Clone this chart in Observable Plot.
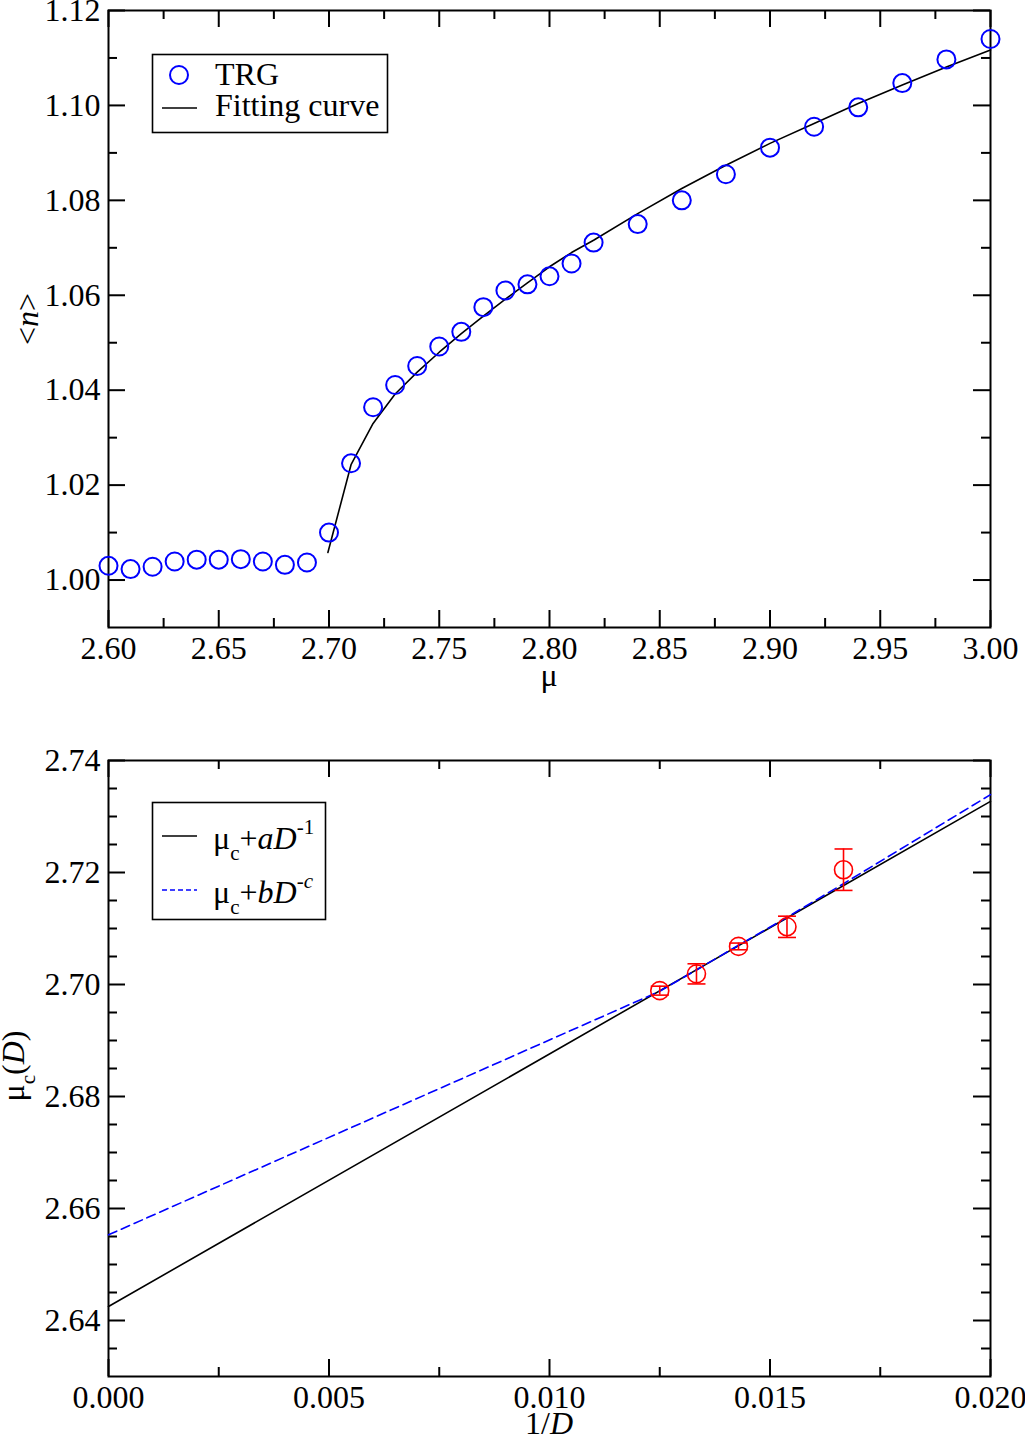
<!DOCTYPE html>
<html>
<head>
<meta charset="utf-8">
<script src="https://cdn.jsdelivr.net/npm/d3@7"></script>
<script src="https://cdn.jsdelivr.net/npm/@observablehq/plot@0.6"></script>
<style>
  html, body { margin: 0; padding: 0; background: #fff; }
  #root { position: relative; width: 1025px; height: 1438px; overflow: hidden; font-family: 'Liberation Serif', 'Times New Roman', serif; }
  #top, #bot { position: absolute; left: 0; }
  #top { top: 0; }
  #bot { top: 715px; }
  #overlay { position: absolute; left: 0; top: 0; pointer-events: none; }
  #root svg, #root svg text { font-family: 'Liberation Serif', 'Times New Roman', serif !important; }
</style>
</head>
<body>
<div id="root">
  <div id="top"></div>
  <div id="bot"></div>
  <svg id="overlay" width="1025" height="1438" font-size="32">
    <!-- top legend -->
    <rect x="152.5" y="54.5" width="235" height="78" fill="#fff" stroke="#000" stroke-width="1.6"></rect>
    <circle cx="179" cy="75" r="9" fill="none" stroke="#0000ff" stroke-width="2"></circle>
    <text x="215" y="85">TRG</text>
    <line x1="162" x2="197" y1="108" y2="108" stroke="#000" stroke-width="1.5"></line>
    <text x="215" y="116">Fitting curve</text>
    <!-- bottom legend -->
    <rect x="152.5" y="802.5" width="173" height="117" fill="#fff" stroke="#000" stroke-width="1.6"></rect>
    <line x1="162" x2="197" y1="836" y2="836" stroke="#000" stroke-width="1.5"></line>
    <text x="213" y="849">μ<tspan font-size="21" dy="11">c</tspan><tspan dy="-11">+</tspan><tspan font-style="italic">aD</tspan><tspan font-size="21" dy="-15">-1</tspan></text>
    <line x1="162" x2="197" y1="890" y2="890" stroke="#0000ff" stroke-width="1.5" stroke-dasharray="5,3"></line>
    <text x="213" y="903">μ<tspan font-size="21" dy="11">c</tspan><tspan dy="-11">+</tspan><tspan font-style="italic">bD</tspan><tspan font-size="21" dy="-15">-</tspan><tspan font-size="21" font-style="italic">c</tspan></text>
    <!-- axis titles -->
    <text x="549" y="686" text-anchor="middle">μ</text>
    <text transform="translate(38,319) rotate(-90)" text-anchor="middle">&lt;<tspan font-style="italic">n</tspan>&gt;</text>
    <text x="549" y="1434" text-anchor="middle">1/<tspan font-style="italic">D</tspan></text>
    <text transform="translate(24,1066) rotate(-90)" text-anchor="middle">μ<tspan font-size="21" dy="11">c</tspan><tspan dy="-11">(</tspan><tspan font-style="italic">D</tspan>)</text>
  </svg>
</div>
<script>
// ---------- Top panel data ----------
const muTRG = [2.60, 2.61, 2.62, 2.63, 2.64, 2.65, 2.66, 2.67, 2.68, 2.69, 2.70, 2.71, 2.72, 2.73, 2.74, 2.75, 2.76, 2.77, 2.78, 2.79, 2.80, 2.81, 2.82,
               2.84, 2.86, 2.88, 2.90, 2.92, 2.94, 2.96, 2.98, 3.00];
const nTRG = [1.0030, 1.0023, 1.0028, 1.0039, 1.0043, 1.0043, 1.0044, 1.0039, 1.0032, 1.0037, 1.0100, 1.0246, 1.0364, 1.0411, 1.0451, 1.0492, 1.0523, 1.0575, 1.0610, 1.0623, 1.0640, 1.0667, 1.0711,
              1.0750, 1.0800, 1.0855, 1.0911, 1.0955, 1.0996, 1.1047, 1.1097, 1.1140];
const muFit = [2.6995, 2.71, 2.72, 2.73, 2.74, 2.75, 2.76, 2.77, 2.78, 2.79, 2.80, 2.81, 2.82,
               2.84, 2.86, 2.88, 2.90, 2.92, 2.94, 2.96, 2.98, 3.00];
const nFit = [1.0058, 1.0243, 1.0330, 1.0392, 1.0438, 1.0480, 1.0519, 1.0556, 1.0592, 1.0626, 1.0660, 1.0690, 1.0716,
              1.0772, 1.0825, 1.0874, 1.0920, 1.0962, 1.1004, 1.1043, 1.1081, 1.1117];
const topXMajor = [2.60, 2.65, 2.70, 2.75, 2.80, 2.85, 2.90, 2.95, 3.00];
const topXMinor = [2.625, 2.675, 2.725, 2.775, 2.825, 2.875, 2.925, 2.975];
const topYMajor = [1.00, 1.02, 1.04, 1.06, 1.08, 1.10, 1.12];
const topYMinor = [1.01, 1.03, 1.05, 1.07, 1.09, 1.11];

// ---------- Bottom panel data ----------
const invD = [0.0125, 0.013333, 0.014286, 0.015385, 0.016667];
const mucD = [2.6989, 2.7019, 2.7068, 2.7103, 2.7205];
const mucErr = [0.0008, 0.0018, 0.0006, 0.0019, 0.0037];
const fit1X = [0, 0.02];
const fit1Y = [2.6425, 2.7327];
const fit2X = [0, 0.0125, 0.013333, 0.014286, 0.015385, 0.016667, 0.02];
const fit2Y = [2.6553, 2.6988, 2.7026, 2.7070, 2.7120, 2.7180, 2.7339];
const botXMajor = [0, 0.005, 0.010, 0.015, 0.020];
const botXMinor = [0.0025, 0.0075, 0.0125, 0.0175];
const botYMajor = [2.64, 2.66, 2.68, 2.70, 2.72, 2.74];
const botYMinor = [2.635, 2.645, 2.65, 2.655, 2.665, 2.67, 2.675, 2.685, 2.69, 2.695, 2.705, 2.71, 2.715, 2.725, 2.73, 2.735];

// ---------- helpers ----------
const W = 1025;
const FONT = "'Liberation Serif', 'Times New Roman', serif";
const STYLE = "font-family: 'Liberation Serif', 'Times New Roman', serif; font-size: 32px; color: #000; background: transparent; overflow: visible;";
const BLUE = "#0000ff", RED = "#ff0000";

function frameTicks(xMaj, xMin, yMaj, yMin, innerW, innerH) {
  const M = 17, m = 9, sw = 2;
  return [
    Plot.tickX(xMaj, {x: d => d, insetTop: innerH - M, stroke: "#000", strokeWidth: sw}),
    Plot.tickX(xMaj, {x: d => d, insetBottom: innerH - M, stroke: "#000", strokeWidth: sw}),
    Plot.tickX(xMin, {x: d => d, insetTop: innerH - m, stroke: "#000", strokeWidth: sw}),
    Plot.tickX(xMin, {x: d => d, insetBottom: innerH - m, stroke: "#000", strokeWidth: sw}),
    Plot.tickY(yMaj, {y: d => d, insetRight: innerW - M, stroke: "#000", strokeWidth: sw}),
    Plot.tickY(yMaj, {y: d => d, insetLeft: innerW - M, stroke: "#000", strokeWidth: sw}),
    Plot.tickY(yMin, {y: d => d, insetRight: innerW - m, stroke: "#000", strokeWidth: sw}),
    Plot.tickY(yMin, {y: d => d, insetLeft: innerW - m, stroke: "#000", strokeWidth: sw})
  ];
}

const capSymbol = {
  draw(ctx, size) {
    const r = Math.sqrt(size / Math.PI);
    ctx.moveTo(-r, 0);
    ctx.lineTo(r, 0);
  }
};

// ---------- top chart ----------
const trg = muTRG.map((m, i) => ({mu: m, n: nTRG[i]}));
const fit = muFit.map((m, i) => ({mu: m, n: nFit[i]}));
const topH = 715, topMT = 10, topMB = 88, ML = 108, MR = 35;
const topInnerH = topH - topMT - topMB, innerW = W - ML - MR;

const topPlot = Plot.plot({
  width: W, height: topH,
  marginTop: topMT, marginBottom: topMB, marginLeft: ML, marginRight: MR,
  style: STYLE,
  x: {domain: [2.60, 3.00]},
  y: {domain: [0.99, 1.12]},
  marks: [
    Plot.frame({stroke: "#000", strokeWidth: 2}),
    ...frameTicks(topXMajor, topXMinor, topYMajor, topYMinor, innerW, topInnerH),
    Plot.axisX({ticks: topXMajor, tickSize: 0, tickPadding: 9, tickFormat: d3.format(".2f"), fontSize: 32, fontFamily: FONT, label: null}),
    Plot.axisY({ticks: topYMajor, tickSize: 0, tickPadding: 8, tickFormat: d3.format(".2f"), fontSize: 32, fontFamily: FONT, label: null}),
    Plot.line(fit, {x: "mu", y: "n", stroke: "#000", strokeWidth: 1.6}),
    Plot.dot(trg, {x: "mu", y: "n", r: 9, stroke: BLUE, strokeWidth: 2, fill: "none"})
  ]
});
document.getElementById("top").appendChild(topPlot);

// ---------- bottom chart ----------
const pts = invD.map((x, i) => ({x, y: mucD[i], lo: mucD[i] - mucErr[i], hi: mucD[i] + mucErr[i]}));
const l1 = fit1X.map((x, i) => ({x, y: fit1Y[i]}));
const l2 = fit2X.map((x, i) => ({x, y: fit2Y[i]}));
const botH = 723, botMT = 45, botMB = 62;
const botInnerH = botH - botMT - botMB;

const botPlot = Plot.plot({
  width: W, height: botH,
  marginTop: botMT, marginBottom: botMB, marginLeft: ML, marginRight: MR,
  style: STYLE,
  x: {domain: [0, 0.02]},
  y: {domain: [2.63, 2.74]},
  marks: [
    Plot.frame({stroke: "#000", strokeWidth: 2}),
    ...frameTicks(botXMajor, botXMinor, botYMajor, botYMinor, innerW, botInnerH),
    Plot.axisX({ticks: botXMajor, tickSize: 0, tickPadding: 9, tickFormat: d3.format(".3f"), fontSize: 32, fontFamily: FONT, label: null}),
    Plot.axisY({ticks: botYMajor, tickSize: 0, tickPadding: 8, tickFormat: d3.format(".2f"), fontSize: 32, fontFamily: FONT, label: null}),
    Plot.line(l1, {x: "x", y: "y", stroke: "#000", strokeWidth: 1.6}),
    Plot.line(l2, {x: "x", y: "y", stroke: BLUE, strokeWidth: 1.6, strokeDasharray: "9,5"}),
    Plot.ruleX(pts, {x: "x", y1: "lo", y2: "hi", stroke: RED, strokeWidth: 1.6}),
    Plot.dot(pts, {x: "x", y: "lo", symbol: capSymbol, r: 9, stroke: RED, strokeWidth: 1.6}),
    Plot.dot(pts, {x: "x", y: "hi", symbol: capSymbol, r: 9, stroke: RED, strokeWidth: 1.6}),
    Plot.dot(pts, {x: "x", y: "y", r: 9, stroke: RED, strokeWidth: 1.6, fill: "none"})
  ]
});
document.getElementById("bot").appendChild(botPlot);
</script>
</body>
</html>
